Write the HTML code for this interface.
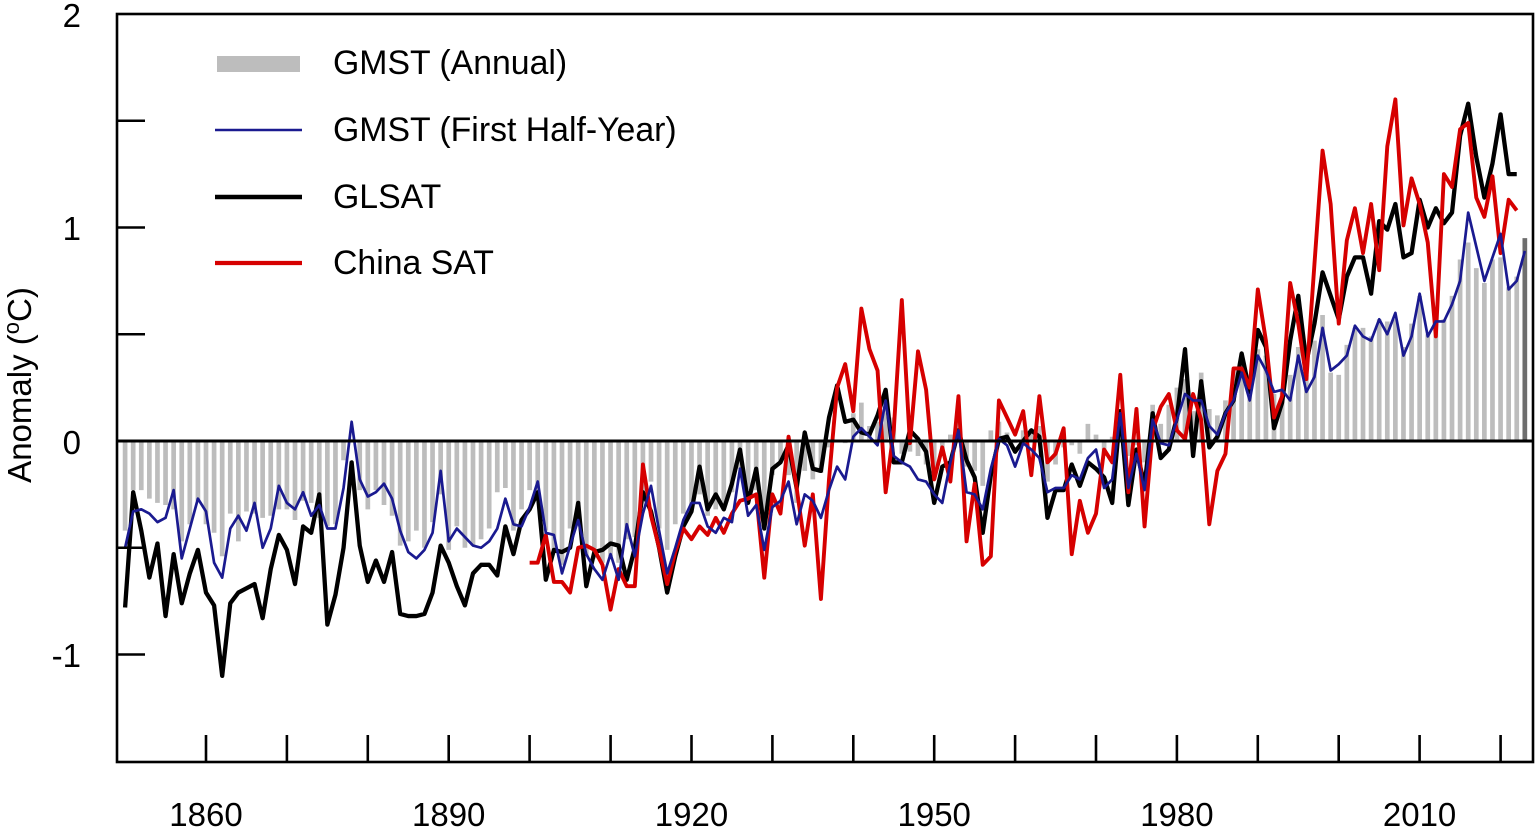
<!DOCTYPE html>
<html>
<head>
<meta charset="utf-8">
<style>
html,body{margin:0;padding:0;background:#fff;}
svg{display:block;}
text{font-family:"Liberation Sans",Arial,Helvetica,sans-serif;fill:#000;}
</style>
</head>
<body>
<svg width="1536" height="830" viewBox="0 0 1536 830" xmlns="http://www.w3.org/2000/svg">
<rect x="0" y="0" width="1536" height="830" fill="#fff"/>

<g transform="translate(117,441) scale(8.091,-213.5) translate(-1849,0)">
  <g transform="translate(-0.29,0)">
    <path fill="#bdbdbd" d="
M1850 0V-.42h.58V0zM1851 0V-.23h.58V0zM1852 0V-.23h.58V0zM1853 0V-.27h.58V0zM1854 0V-.29h.58V0zM1855 0V-.30h.58V0zM1856 0V-.32h.58V0zM1857 0V-.47h.58V0zM1858 0V-.39h.58V0zM1859 0V-.28h.58V0z
M1860 0V-.39h.58V0zM1861 0V-.43h.58V0zM1862 0V-.54h.58V0zM1863 0V-.34h.58V0zM1864 0V-.47h.58V0zM1865 0V-.33h.58V0zM1866 0V-.34h.58V0zM1867 0V-.36h.58V0zM1868 0V-.35h.58V0zM1869 0V-.32h.58V0z
M1870 0V-.32h.58V0zM1871 0V-.37h.58V0zM1872 0V-.28h.58V0zM1873 0V-.29h.58V0zM1874 0V-.36h.58V0zM1875 0V-.40h.58V0zM1876 0V-.39h.58V0zM1877 0V-.09h.58V0zM1878 0V.01h.58V0zM1879 0V-.23h.58V0z
M1880 0V-.32h.58V0zM1881 0V-.23h.58V0zM1882 0V-.30h.58V0zM1883 0V-.35h.58V0zM1884 0V-.49h.58V0zM1885 0V-.47h.58V0zM1886 0V-.42h.58V0zM1887 0V-.50h.58V0zM1888 0V-.38h.58V0zM1889 0V-.25h.58V0z
M1890 0V-.51h.58V0zM1891 0V-.40h.58V0zM1892 0V-.50h.58V0zM1893 0V-.49h.58V0zM1894 0V-.46h.58V0zM1895 0V-.41h.58V0zM1896 0V-.24h.58V0zM1897 0V-.22h.58V0zM1898 0V-.42h.58V0zM1899 0V-.32h.58V0z
M1900 0V-.23h.58V0zM1901 0V-.28h.58V0zM1902 0V-.42h.58V0zM1903 0V-.51h.58V0zM1904 0V-.58h.58V0zM1905 0V-.41h.58V0zM1906 0V-.34h.58V0zM1907 0V-.54h.58V0zM1908 0V-.55h.58V0zM1909 0V-.57h.58V0z
M1910 0V-.54h.58V0zM1911 0V-.57h.58V0zM1912 0V-.46h.58V0zM1913 0V-.45h.58V0zM1914 0V-.25h.58V0zM1915 0V-.19h.58V0zM1916 0V-.41h.58V0zM1917 0V-.51h.58V0zM1918 0V-.39h.58V0zM1919 0V-.34h.58V0z
M1920 0V-.31h.58V0zM1921 0V-.25h.58V0zM1922 0V-.35h.58V0zM1923 0V-.32h.58V0zM1924 0V-.31h.58V0zM1925 0V-.24h.58V0zM1926 0V-.13h.58V0zM1927 0V-.23h.58V0zM1928 0V-.23h.58V0zM1929 0V-.39h.58V0z
M1930 0V-.16h.58V0zM1931 0V-.10h.58V0zM1932 0V-.16h.58V0zM1933 0V-.29h.58V0zM1934 0V-.14h.58V0zM1935 0V-.18h.58V0zM1936 0V-.15h.58V0zM1937 0V-.03h.58V0zM1938 0V.005h.58V0zM1939 0V-.01h.58V0z
M1940 0V.13h.58V0zM1941 0V.18h.58V0zM1942 0V.07h.58V0zM1943 0V.09h.58V0zM1944 0V.21h.58V0zM1945 0V.11h.58V0zM1946 0V-.06h.58V0zM1947 0V-.05h.58V0zM1948 0V-.07h.58V0zM1949 0V-.11h.58V0z
M1950 0V-.18h.58V0zM1951 0V-.04h.58V0zM1952 0V.03h.58V0zM1953 0V.09h.58V0zM1954 0V-.12h.58V0zM1955 0V-.14h.58V0zM1956 0V-.21h.58V0zM1957 0V.05h.58V0zM1958 0V.09h.58V0zM1959 0V.04h.58V0z
M1960 0V-.01h.58V0zM1961 0V.05h.58V0zM1962 0V.04h.58V0zM1963 0V.07h.58V0zM1964 0V-.19h.58V0zM1965 0V-.11h.58V0zM1966 0V-.03h.58V0zM1967 0V-.02h.58V0zM1968 0V-.06h.58V0zM1969 0V.08h.58V0z
M1970 0V.03h.58V0zM1971 0V-.07h.58V0zM1972 0V.02h.58V0zM1973 0V.15h.58V0zM1974 0V-.07h.58V0zM1975 0V-.02h.58V0zM1976 0V-.10h.58V0zM1977 0V.17h.58V0zM1978 0V.08h.58V0zM1979 0V.17h.58V0z
M1980 0V.25h.58V0zM1981 0V.29h.58V0zM1982 0V.14h.58V0zM1983 0V.32h.58V0zM1984 0V.15h.58V0zM1985 0V.12h.58V0zM1986 0V.19h.58V0zM1987 0V.33h.58V0zM1988 0V.39h.58V0zM1989 0V.28h.58V0z
M1990 0V.43h.58V0zM1991 0V.40h.58V0zM1992 0V.22h.58V0zM1993 0V.24h.58V0zM1994 0V.31h.58V0zM1995 0V.44h.58V0zM1996 0V.31h.58V0zM1997 0V.47h.58V0zM1998 0V.59h.58V0zM1999 0V.32h.58V0z
M2000 0V.31h.58V0zM2001 0V.45h.58V0zM2002 0V.53h.58V0zM2003 0V.53h.58V0zM2004 0V.49h.58V0zM2005 0V.57h.58V0zM2006 0V.56h.58V0zM2007 0V.57h.58V0zM2008 0V.44h.58V0zM2009 0V.55h.58V0z
M2010 0V.68h.58V0zM2011 0V.50h.58V0zM2012 0V.55h.58V0zM2013 0V.57h.58V0zM2014 0V.68h.58V0zM2015 0V.85h.58V0zM2016 0V.93h.58V0zM2017 0V.81h.58V0zM2018 0V.74h.58V0zM2019 0V.85h.58V0z
M2020 0V.86h.58V0zM2021 0V.72h.58V0zM2022 0V.77h.58V0z"/>
    <path fill="#6e6e6e" d="M2023 0V.95h.58V0z"/>
  </g>

  <polyline fill="none" stroke="#000" stroke-width="4.3" stroke-linejoin="round" vector-effect="non-scaling-stroke" points="
1850,-0.78 1851,-0.24 1852,-0.42 1853,-0.64 1854,-0.48 1855,-0.82 1856,-0.53 1857,-0.76 1858,-0.62 1859,-0.51
1860,-0.71 1861,-0.77 1862,-1.10 1863,-0.76 1864,-0.71 1865,-0.69 1866,-0.67 1867,-0.83 1868,-0.60 1869,-0.44
1870,-0.51 1871,-0.67 1872,-0.40 1873,-0.43 1874,-0.25 1875,-0.86 1876,-0.72 1877,-0.50 1878,-0.10 1879,-0.49
1880,-0.66 1881,-0.56 1882,-0.66 1883,-0.52 1884,-0.81 1885,-0.82 1886,-0.82 1887,-0.81 1888,-0.71 1889,-0.49
1890,-0.57 1891,-0.68 1892,-0.77 1893,-0.62 1894,-0.58 1895,-0.58 1896,-0.63 1897,-0.40 1898,-0.53 1899,-0.37
1900,-0.32 1901,-0.24 1902,-0.65 1903,-0.51 1904,-0.52 1905,-0.50 1906,-0.29 1907,-0.68 1908,-0.52 1909,-0.51
1910,-0.48 1911,-0.49 1912,-0.65 1913,-0.50 1914,-0.24 1915,-0.33 1916,-0.50 1917,-0.71 1918,-0.54 1919,-0.40
1920,-0.33 1921,-0.12 1922,-0.32 1923,-0.25 1924,-0.32 1925,-0.20 1926,-0.04 1927,-0.29 1928,-0.13 1929,-0.41
1930,-0.13 1931,-0.10 1932,-0.02 1933,-0.22 1934,0.04 1935,-0.13 1936,-0.14 1937,0.11 1938,0.26 1939,0.09
1940,0.10 1941,0.04 1942,0.03 1943,0.12 1944,0.24 1945,-0.10 1946,-0.10 1947,0.05 1948,0.01 1949,-0.05
1950,-0.29 1951,-0.12 1952,-0.10 1953,0.05 1954,-0.09 1955,-0.17 1956,-0.43 1957,-0.16 1958,0.01 1959,0.02
1960,-0.05 1961,0.00 1962,0.05 1963,0.02 1964,-0.36 1965,-0.23 1966,-0.23 1967,-0.11 1968,-0.21 1969,-0.10
1970,-0.13 1971,-0.17 1972,-0.29 1973,0.14 1974,-0.30 1975,-0.04 1976,-0.21 1977,0.13 1978,-0.08 1979,-0.04
1980,0.11 1981,0.43 1982,-0.07 1983,0.28 1984,-0.03 1985,0.02 1986,0.13 1987,0.19 1988,0.41 1989,0.23
1990,0.52 1991,0.44 1992,0.06 1993,0.18 1994,0.47 1995,0.68 1996,0.37 1997,0.55 1998,0.79 1999,0.68
2000,0.57 2001,0.77 2002,0.86 2003,0.86 2004,0.69 2005,1.03 2006,0.99 2007,1.11 2008,0.86 2009,0.88
2010,1.13 2011,1.00 2012,1.09 2013,1.02 2014,1.07 2015,1.43 2016,1.58 2017,1.33 2018,1.14 2019,1.30
2020,1.53 2021,1.25 2022,1.25"/>

  <polyline fill="none" stroke="#d60000" stroke-width="3.9" stroke-linejoin="round" vector-effect="non-scaling-stroke" points="
1900,-0.57 1901,-0.57 1902,-0.44 1903,-0.66 1904,-0.66 1905,-0.71 1906,-0.50 1907,-0.49 1908,-0.51 1909,-0.58
1910,-0.79 1911,-0.60 1912,-0.68 1913,-0.68 1914,-0.11 1915,-0.35 1916,-0.50 1917,-0.67 1918,-0.52 1919,-0.41
1920,-0.46 1921,-0.40 1922,-0.44 1923,-0.36 1924,-0.43 1925,-0.34 1926,-0.28 1927,-0.27 1928,-0.25 1929,-0.64
1930,-0.25 1931,-0.34 1932,0.02 1933,-0.22 1934,-0.49 1935,-0.25 1936,-0.74 1937,-0.18 1938,0.25 1939,0.36
1940,0.14 1941,0.62 1942,0.43 1943,0.33 1944,-0.24 1945,0.05 1946,0.66 1947,-0.01 1948,0.42 1949,0.24
1950,-0.18 1951,-0.03 1952,-0.19 1953,0.21 1954,-0.47 1955,-0.20 1956,-0.58 1957,-0.54 1958,0.19 1959,0.11
1960,0.03 1961,0.14 1962,-0.16 1963,0.21 1964,-0.10 1965,-0.06 1966,0.06 1967,-0.53 1968,-0.28 1969,-0.43
1970,-0.34 1971,-0.04 1972,-0.10 1973,0.31 1974,-0.24 1975,0.15 1976,-0.40 1977,0.05 1978,0.16 1979,0.22
1980,0.05 1981,0.01 1982,0.22 1983,0.10 1984,-0.39 1985,-0.14 1986,-0.06 1987,0.34 1988,0.34 1989,0.25
1990,0.71 1991,0.47 1992,0.11 1993,0.21 1994,0.74 1995,0.55 1996,0.29 1997,0.83 1998,1.36 1999,1.11
2000,0.55 2001,0.94 2002,1.09 2003,0.88 2004,1.11 2005,0.80 2006,1.38 2007,1.60 2008,1.01 2009,1.23
2010,1.11 2011,0.93 2012,0.49 2013,1.25 2014,1.19 2015,1.46 2016,1.49 2017,1.14 2018,1.05 2019,1.24
2020,0.88 2021,1.13 2022,1.08"/>

  <polyline fill="none" stroke="#1a1a90" stroke-width="2.7" stroke-linejoin="round" vector-effect="non-scaling-stroke" points="
1850,-0.50 1851,-0.33 1852,-0.32 1853,-0.34 1854,-0.38 1855,-0.36 1856,-0.23 1857,-0.55 1858,-0.41 1859,-0.27
1860,-0.33 1861,-0.57 1862,-0.64 1863,-0.41 1864,-0.35 1865,-0.42 1866,-0.29 1867,-0.50 1868,-0.41 1869,-0.21
1870,-0.29 1871,-0.32 1872,-0.24 1873,-0.35 1874,-0.30 1875,-0.41 1876,-0.41 1877,-0.22 1878,0.09 1879,-0.18
1880,-0.26 1881,-0.24 1882,-0.20 1883,-0.27 1884,-0.42 1885,-0.52 1886,-0.55 1887,-0.51 1888,-0.43 1889,-0.14
1890,-0.47 1891,-0.41 1892,-0.45 1893,-0.49 1894,-0.50 1895,-0.47 1896,-0.41 1897,-0.27 1898,-0.39 1899,-0.40
1900,-0.31 1901,-0.19 1902,-0.43 1903,-0.44 1904,-0.62 1905,-0.49 1906,-0.37 1907,-0.53 1908,-0.60 1909,-0.65
1910,-0.53 1911,-0.65 1912,-0.39 1913,-0.54 1914,-0.34 1915,-0.21 1916,-0.42 1917,-0.62 1918,-0.50 1919,-0.37
1920,-0.29 1921,-0.29 1922,-0.40 1923,-0.43 1924,-0.36 1925,-0.38 1926,-0.13 1927,-0.35 1928,-0.30 1929,-0.51
1930,-0.31 1931,-0.28 1932,-0.19 1933,-0.39 1934,-0.25 1935,-0.28 1936,-0.36 1937,-0.23 1938,-0.12 1939,-0.18
1940,0.02 1941,0.06 1942,0.02 1943,-0.02 1944,0.19 1945,-0.07 1946,-0.10 1947,-0.12 1948,-0.18 1949,-0.19
1950,-0.25 1951,-0.29 1952,-0.10 1953,0.05 1954,-0.24 1955,-0.25 1956,-0.32 1957,-0.13 1958,0.01 1959,-0.02
1960,-0.12 1961,-0.01 1962,-0.04 1963,-0.08 1964,-0.24 1965,-0.22 1966,-0.22 1967,-0.16 1968,-0.18 1969,-0.08
1970,-0.04 1971,-0.22 1972,-0.18 1973,0.13 1974,-0.22 1975,-0.06 1976,-0.23 1977,0.10 1978,-0.01 1979,-0.02
1980,0.10 1981,0.22 1982,0.19 1983,0.19 1984,0.07 1985,0.03 1986,0.13 1987,0.19 1988,0.32 1989,0.19
1990,0.40 1991,0.33 1992,0.23 1993,0.24 1994,0.19 1995,0.40 1996,0.23 1997,0.30 1998,0.53 1999,0.33
2000,0.36 2001,0.40 2002,0.54 2003,0.49 2004,0.47 2005,0.57 2006,0.50 2007,0.60 2008,0.40 2009,0.49
2010,0.69 2011,0.49 2012,0.56 2013,0.56 2014,0.64 2015,0.75 2016,1.07 2017,0.91 2018,0.75 2019,0.86
2020,0.97 2021,0.71 2022,0.75 2023,0.89"/>
</g>

<line x1="117" y1="441" x2="1533" y2="441" stroke="#000" stroke-width="3"/>

<rect x="117" y="14" width="1416" height="748" fill="none" stroke="#000" stroke-width="2.6"/>

<g stroke="#000" stroke-width="2.6">
  <line x1="117" y1="120.75" x2="145" y2="120.75"/>
  <line x1="117" y1="227.5" x2="145" y2="227.5"/>
  <line x1="117" y1="334.25" x2="145" y2="334.25"/>
  <line x1="117" y1="547.75" x2="145" y2="547.75"/>
  <line x1="117" y1="654.5" x2="145" y2="654.5"/>
</g>

<g stroke="#000" stroke-width="2.6">
  <line x1="206" y1="762" x2="206" y2="735"/>
  <line x1="286.9" y1="762" x2="286.9" y2="735"/>
  <line x1="367.8" y1="762" x2="367.8" y2="735"/>
  <line x1="448.7" y1="762" x2="448.7" y2="735"/>
  <line x1="529.6" y1="762" x2="529.6" y2="735"/>
  <line x1="610.6" y1="762" x2="610.6" y2="735"/>
  <line x1="691.5" y1="762" x2="691.5" y2="735"/>
  <line x1="772.4" y1="762" x2="772.4" y2="735"/>
  <line x1="853.3" y1="762" x2="853.3" y2="735"/>
  <line x1="934.2" y1="762" x2="934.2" y2="735"/>
  <line x1="1015.1" y1="762" x2="1015.1" y2="735"/>
  <line x1="1096" y1="762" x2="1096" y2="735"/>
  <line x1="1176.9" y1="762" x2="1176.9" y2="735"/>
  <line x1="1257.8" y1="762" x2="1257.8" y2="735"/>
  <line x1="1338.7" y1="762" x2="1338.7" y2="735"/>
  <line x1="1419.6" y1="762" x2="1419.6" y2="735"/>
  <line x1="1500.6" y1="762" x2="1500.6" y2="735"/>
</g>

<g font-size="33" text-anchor="end">
  <text x="81" y="27">2</text>
  <text x="81" y="240">1</text>
  <text x="81" y="454">0</text>
  <text x="81" y="667">-1</text>
</g>

<g font-size="33" text-anchor="middle">
  <text x="206" y="826">1860</text>
  <text x="448.7" y="826">1890</text>
  <text x="691.5" y="826">1920</text>
  <text x="934.2" y="826">1950</text>
  <text x="1176.9" y="826">1980</text>
  <text x="1419.6" y="826">2010</text>
</g>

<text font-size="33" text-anchor="middle" transform="translate(31,385) rotate(-90)">Anomaly (<tspan font-size="22" dy="-12">o</tspan><tspan dy="12">C)</tspan></text>

<rect x="217" y="56" width="83" height="16" fill="#bdbdbd"/>
<line x1="215" y1="130" x2="302" y2="130" stroke="#1a1a90" stroke-width="2.6"/>
<line x1="215" y1="197" x2="302" y2="197" stroke="#000" stroke-width="4.6"/>
<line x1="215" y1="263" x2="302" y2="263" stroke="#d60000" stroke-width="4.2"/>
<g font-size="33.8">
  <text x="333" y="74">GMST (Annual)</text>
  <text x="333" y="141">GMST (First Half-Year)</text>
  <text x="333" y="208">GLSAT</text>
  <text x="333" y="274">China SAT</text>
</g>
</svg>
</body>
</html>
